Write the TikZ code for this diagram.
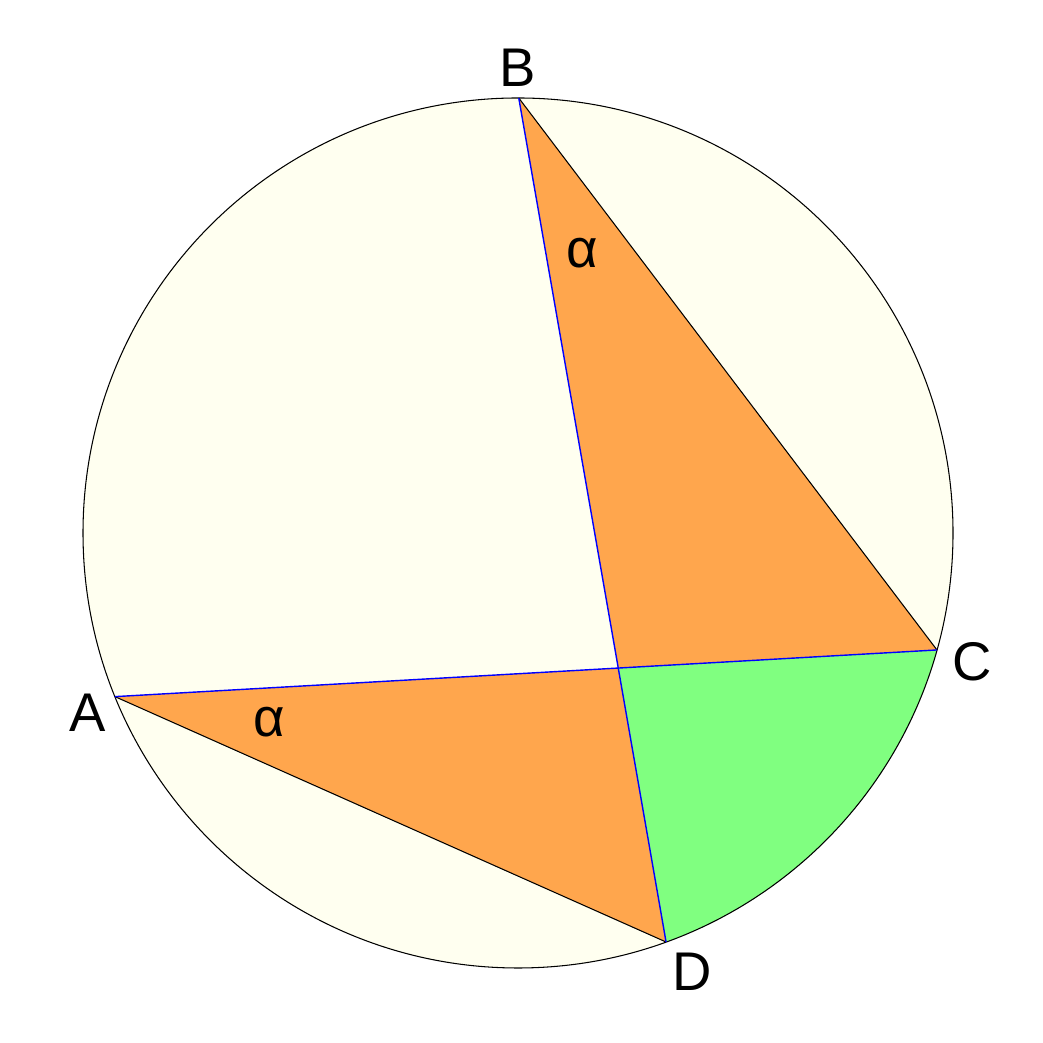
\documentclass[tikz,border=0pt]{standalone}
\usepackage{fontspec}
\setmainfont{Liberation Sans}
\usetikzlibrary{calc}
\definecolor{discfill}{RGB}{255,255,240}
\definecolor{wedgefill}{RGB}{255,166,77}
\definecolor{segfill}{RGB}{128,255,128}
\begin{document}
\begin{tikzpicture}[
  every node/.style={font=\fontsize{15.5}{18}\selectfont},
  chord/.style={line width=0.3pt,black},
  diag/.style={line width=0.4pt,blue}
]
\fill[white] (0,0) rectangle (10.43,10.43);
\useasboundingbox (0,0) rectangle (10.43,10.43);

% Circle and points on it
\coordinate (O) at (5.18,5.10);
\coordinate (B) at ($(O)+(89.9:4.35)$);
\coordinate (C) at ($(O)+(-15.6:4.35)$);
\coordinate (A) at ($(O)+(202.1:4.35)$);
\coordinate (D) at ($(O)+(-70.1:4.35)$);
\coordinate (X) at (intersection of A--C and B--D);

% Fills
\fill[discfill] (O) circle (4.35);
\fill[wedgefill] (B) -- (C) -- (X) -- cycle;
\fill[wedgefill] (A) -- (X) -- (D) -- cycle;
\fill[segfill] (X) -- (C) arc[start angle=-15.6,end angle=-70.1,radius=4.35] -- cycle;

% Circle outline and chords
\draw[chord] (O) circle (4.35);
\draw[chord] (B) -- (C);
\draw[chord] (A) -- (D);
\draw[diag] (A) -- (C);
\draw[diag] (B) -- (D);

% Labels
\node (labB) at (5.18,9.75) {B};
\node (labC) at (9.72,3.81) {C};
\node (labA) at (0.88,3.30) {A};
\node (labD) at (6.92,0.71) {D};
\node (alphaB) at (5.82,7.90) {α};
\node (alphaA) at (2.69,3.21) {α};

\end{tikzpicture}
\end{document}
